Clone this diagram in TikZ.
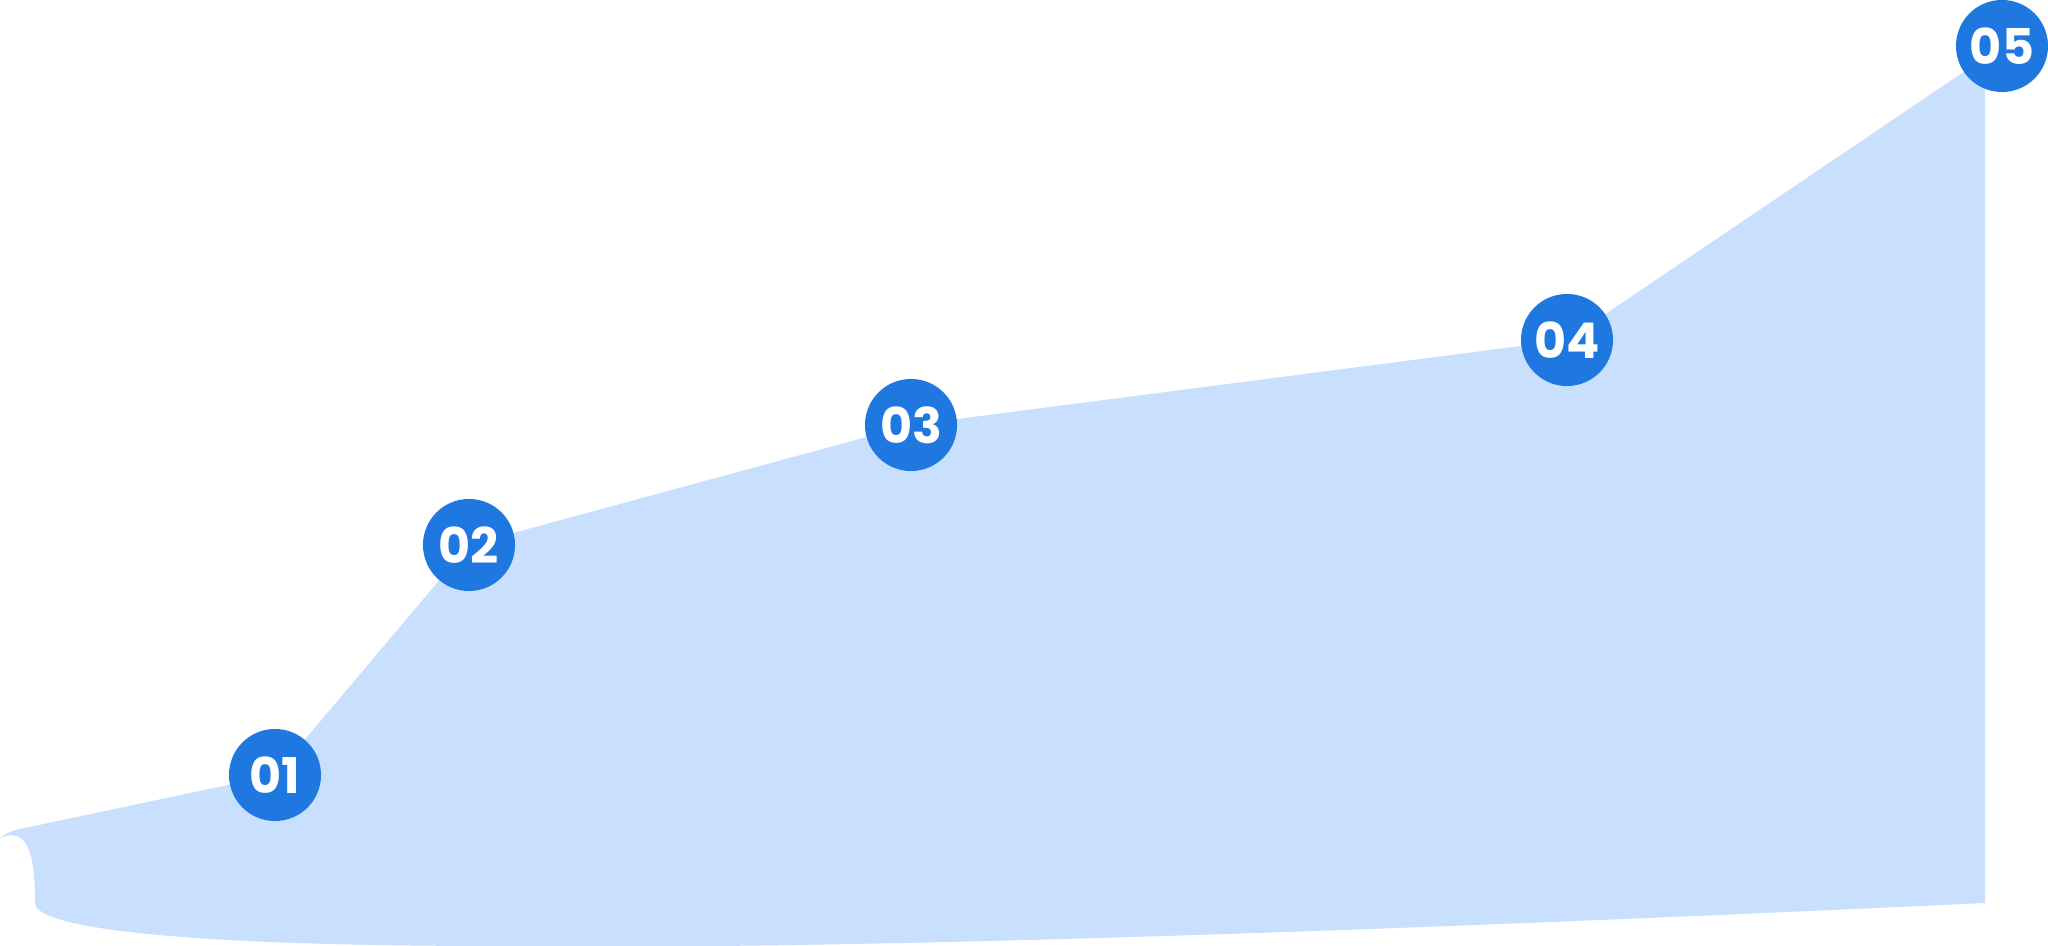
\documentclass[tikz,border=0pt]{standalone}
\usepackage{fontspec}
\setmainfont{Poppins}
\usetikzlibrary {positioning}
\definecolor{area-blue}{HTML}{C8E0FE}
\definecolor{step-blue}{HTML}{1F77E0}
\tikzset{stepdot/.style={circle, fill=step-blue, minimum size=0.92cm, inner sep=0pt, text=white, font=\fontsize{14}{14}\selectfont\bfseries}}
\begin{document}
\begin{tikzpicture}[x=0.01cm, y=-0.01cm]
	\useasboundingbox (0,0) rectangle (2048,946);

	% where the steps sit
	\coordinate (p1) at ( 275,775);
	\coordinate (p2) at ( 469,545);
	\coordinate (p3) at ( 911,425);
	\coordinate (p4) at (1567,340);
	\coordinate (p5) at (2002, 46);

	% the area under them
	\fill[area-blue] (0,838) .. controls (8,832) and (12,831) .. (20,829)
		-- (p1) -- (p2) -- (p3) -- (p4) -- (p5)
		-- (1985,56) -- (1985,903)
		.. controls (1300,935) and (800,950) .. (500,946)
		.. controls (150,946) and (35,925) .. (35,903)
		.. controls (35,860) and (30,825) .. (0,838) -- cycle;

	% the steps
	\foreach \s in {1,...,5} {\node[stepdot] (s\s) at (p\s) {0\s};}

\end{tikzpicture}
\end{document}
